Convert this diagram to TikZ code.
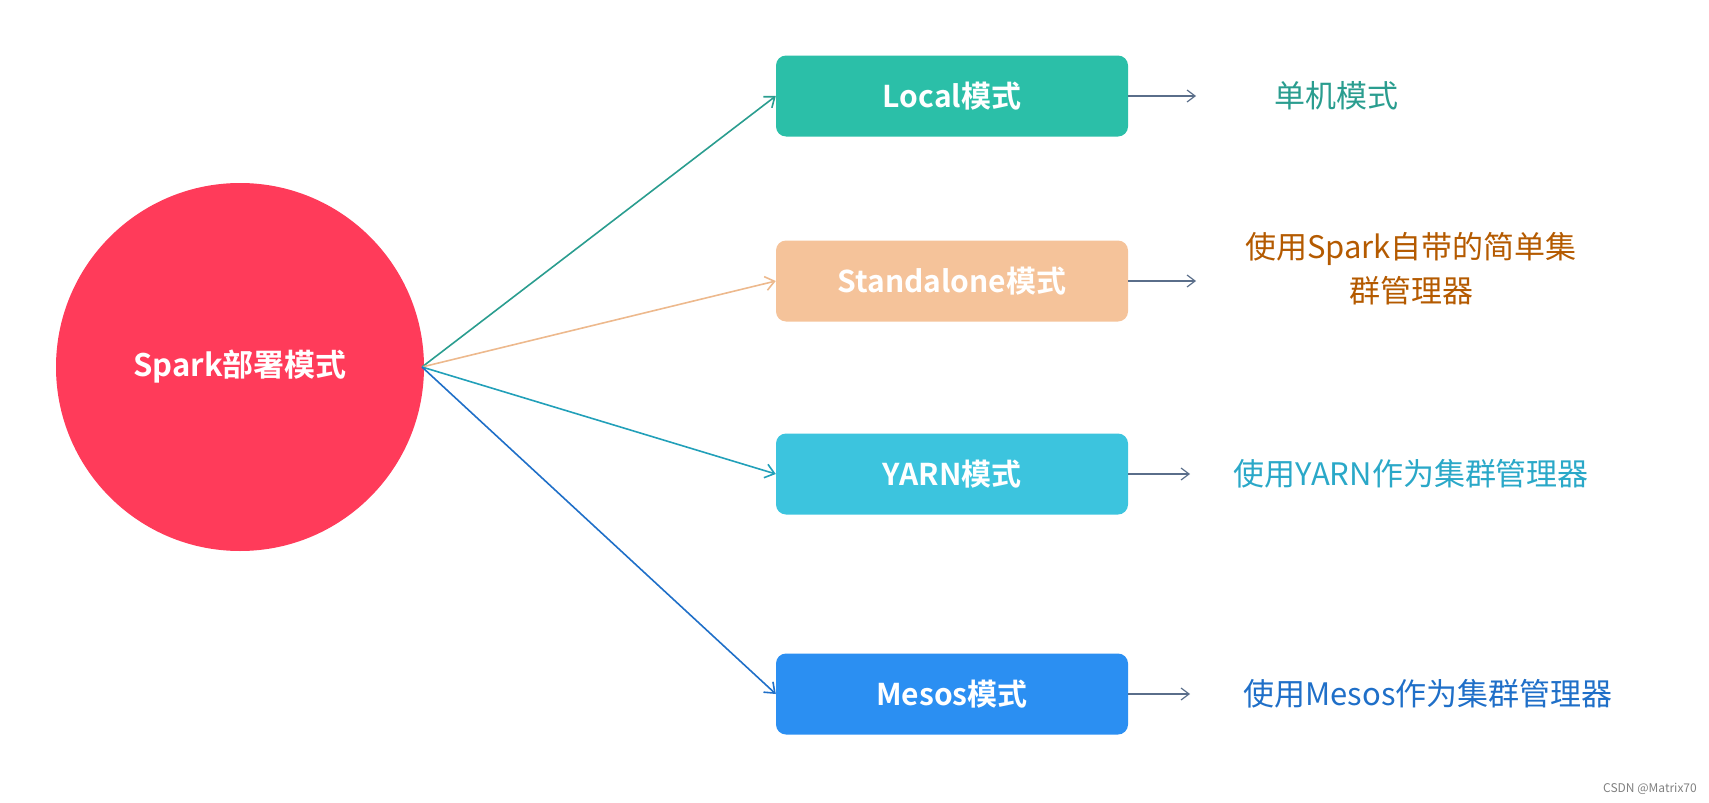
\documentclass[tikz,border=0pt]{standalone}
\usepackage{fontspec}
\newfontfamily\cjk{Noto Sans CJK SC}
\newfontfamily\cjkb{Noto Sans CJK SC Bold}
\usetikzlibrary{arrows.meta}
\definecolor{cLocal}{HTML}{2BBFA8}
\definecolor{cStand}{HTML}{F5C39A}
\definecolor{cYarn}{HTML}{3CC4DE}
\definecolor{cMesos}{HTML}{2B8FF2}
\definecolor{cCirc}{HTML}{FF3B5A}
\definecolor{tLocal}{HTML}{2A9D8F}
\definecolor{tStand}{HTML}{B45A00}
\definecolor{tYarn}{HTML}{2AA8C8}
\definecolor{tMesos}{HTML}{1F6FC8}
\definecolor{aGray}{HTML}{5A6E8A}
\begin{document}
\begin{tikzpicture}[x=1pt,y=-1pt,
  box/.style={rounded corners=10pt,minimum width=352pt,minimum height=81pt,text=white,font=\cjkb\fontsize{30}{36}\selectfont,inner sep=0pt},
  desc/.style={font=\cjk\fontsize{31}{44}\selectfont,align=center},
  main/.style={-{Straight Barb[length=9pt,width=14pt]},line width=1.6pt},
  side/.style={-{Straight Barb[length=8pt,width=12pt]},line width=1.2pt,aGray}]
\useasboundingbox (0,0) rectangle (1709,803);
\node[circle,fill=cCirc,minimum size=368pt,inner sep=0pt,text=white,font=\cjkb\fontsize{31}{36}\selectfont] (c) at (240,367) {Spark部署模式};
\coordinate (o) at (422,367);
\node[box,fill=cLocal] (l) at (952,96) {Local模式};
\node[box,fill=cStand] (s) at (952,281) {Standalone模式};
\node[box,fill=cYarn] (y) at (952,474) {YARN模式};
\node[box,fill=cMesos] (m) at (952,694) {Mesos模式};
\draw[main,tLocal] (o) -- (l.west);
\draw[main,cStand!85!brown] (o) -- (s.west);
\draw[main,tYarn!80!teal] (o) -- (y.west);
\draw[main,tMesos] (o) -- (m.west);
\coordinate (e1) at (1196,96);
\coordinate (e2) at (1196,281);
\coordinate (e3) at (1190,474);
\coordinate (e4) at (1190,694);
\draw[side] (l.east) -- (e1);
\draw[side] (s.east) -- (e2);
\draw[side] (y.east) -- (e3);
\draw[side] (m.east) -- (e4);
\node[desc,text=tLocal] (d1) at (1336,96) {单机模式};
\node[desc,text=tStand] (d2) at (1411,269) {使用Spark自带的简单集\\群管理器};
\node[desc,text=tYarn] (d3) at (1411,474) {使用YARN作为集群管理器};
\node[desc,text=tMesos] (d4) at (1428,694) {使用Mesos作为集群管理器};
\node[font=\cjk\fontsize{12}{14}\selectfont,text=gray] (w) at (1650,789) {CSDN @Matrix70};
\end{tikzpicture}
\end{document}
